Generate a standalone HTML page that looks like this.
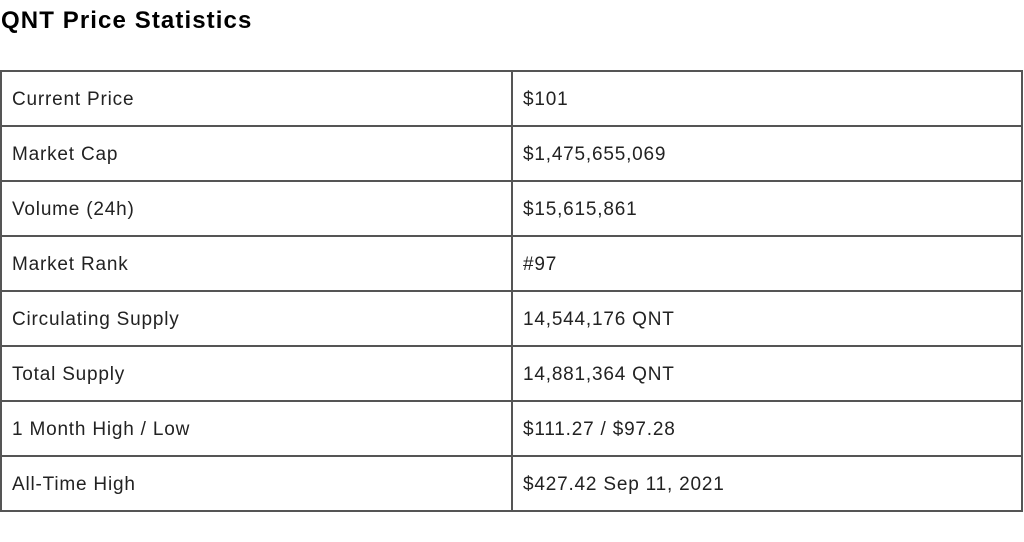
<!DOCTYPE html>
<html><head><style>
body{margin:0;width:1024px;height:542px;background:#fff;position:relative;overflow:hidden;font-family:"Liberation Sans",sans-serif;color:#1a1a1a}
h1{position:absolute;left:1px;top:7px;margin:0;font-size:24px;font-weight:bold;color:#000;letter-spacing:1.1px}
.h{position:absolute;left:0;width:1022px;height:2px;background:#555}
.v{position:absolute;top:70px;height:442px;width:2px;background:#555}
.t{position:absolute;font-size:19px;line-height:22px;color:#222;letter-spacing:0.8px}
</style></head><body>
<h1>QNT Price Statistics</h1>
<div class="h" style="top:70px"></div><div class="h" style="top:125px"></div><div class="h" style="top:180px"></div><div class="h" style="top:235px"></div><div class="h" style="top:290px"></div><div class="h" style="top:345px"></div><div class="h" style="top:400px"></div><div class="h" style="top:455px"></div><div class="h" style="top:510px"></div>
<div class="v" style="left:0"></div><div class="v" style="left:511px"></div><div class="v" style="left:1021px"></div>
<div class="t" style="left:12px;top:89px">Current Price</div><div class="t" style="left:523px;top:89px">$101</div>
<div class="t" style="left:12px;top:144px">Market Cap</div><div class="t" style="left:523px;top:144px">$1,475,655,069</div>
<div class="t" style="left:12px;top:199px">Volume (24h)</div><div class="t" style="left:523px;top:199px">$15,615,861</div>
<div class="t" style="left:12px;top:254px">Market Rank</div><div class="t" style="left:523px;top:254px">#97</div>
<div class="t" style="left:12px;top:309px">Circulating Supply</div><div class="t" style="left:523px;top:309px">14,544,176 QNT</div>
<div class="t" style="left:12px;top:364px">Total Supply</div><div class="t" style="left:523px;top:364px">14,881,364 QNT</div>
<div class="t" style="left:12px;top:419px">1 Month High / Low</div><div class="t" style="left:523px;top:419px">$111.27 / $97.28</div>
<div class="t" style="left:12px;top:474px">All-Time High</div><div class="t" style="left:523px;top:474px">$427.42 Sep 11, 2021</div>
</body></html>
